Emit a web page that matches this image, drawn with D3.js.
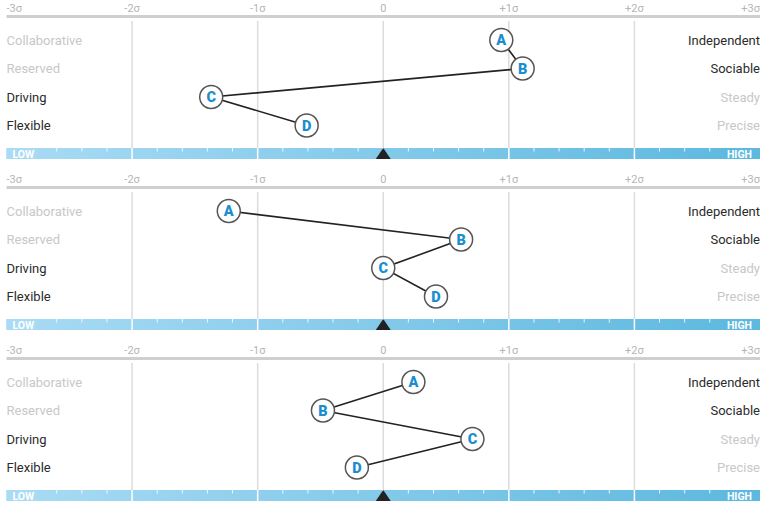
<!DOCTYPE html>
<html>
<head>
<meta charset="utf-8">
<script src="https://d3js.org/d3.v7.min.js"></script>
<style>
body { margin: 0; background: #fff; }
text { font-family: Roboto, "Noto Sans", sans-serif; }
.tick-label { fill: #b5b5b5; font-size: 11px; }
.trait { font-size: 13px; }
.letter { fill: #1b8ed0; font-size: 14.5px; font-weight: 900; }
.bar-label { fill: #fff; font-size: 10.5px; font-weight: bold; }
</style>
</head>
<body>
<div id="chart"></div>
<script type="text/javascript">

// sigma levels and labels
var levels = [-3, -2, -1, 0, 1, 2, 3];
var levelLabels = ["-3σ", "-2σ", "-1σ", "0", "+1σ", "+2σ", "+3σ"];

var leftTraits = ["Collaborative", "Reserved", "Driving", "Flexible"];
var rightTraits = ["Independent", "Sociable", "Steady", "Precise"];
// which side of each row is shown dark
var darkSide = ["right", "right", "left", "left"];

var points = ["A", "B", "C", "D"];
var graph1 = [0.94, 1.11, -1.37, -0.61];
var graph2 = [-1.23, 0.62, 0.0, 0.42];
var graph3 = [0.24, -0.48, 0.71, -0.21];
var graphs = [graph1, graph2, graph3];

var width = 768, height = 508, panelH = 171;

var x = d3.scaleLinear().domain([-3, 3]).range([6.5, 760]);
var y = d3.scalePoint().domain(points).range([40, 125.5]);

var svg = d3.select("#chart").append("svg")
    .attr("width", width)
    .attr("height", height);

var grad = svg.append("defs").append("linearGradient")
    .attr("id", "barGrad");
grad.append("stop").attr("offset", "0%").attr("stop-color", "#a9dbf4");
grad.append("stop").attr("offset", "100%").attr("stop-color", "#5cb8df");

// small ticks every 0.2 sigma inside the bar
var minorTicks = d3.range(-28, 29, 2).map(function(d){ return d / 10; })
    .filter(function(d){ return Math.abs(d - Math.round(d)) > 0.01; });

graphs.forEach(function(vals, gi){
    var g = svg.append("g").attr("transform", "translate(0," + (gi * panelH) + ")");

    // top axis
    g.selectAll(".tick-label").data(levels).enter().append("text")
        .attr("class", "tick-label")
        .attr("x", function(d){ return x(d); })
        .attr("y", 12)
        .attr("text-anchor", function(d){ return d == -3 ? "start" : d == 3 ? "end" : "middle"; })
        .text(function(d, i){ return levelLabels[i]; });
    g.append("line")
        .attr("x1", x(-3)).attr("x2", x(3))
        .attr("y1", 16.5).attr("y2", 16.5)
        .attr("stroke", "#cfcfcf").attr("stroke-width", 3);

    // gridlines
    g.selectAll(".grid").data(levels.slice(1, 6)).enter().append("line")
        .attr("x1", function(d){ return x(d); }).attr("x2", function(d){ return x(d); })
        .attr("y1", 21).attr("y2", 148)
        .attr("stroke", "#dcdcdc").attr("stroke-width", 1.5);

    // trait labels
    g.selectAll(".left").data(leftTraits).enter().append("text")
        .attr("class", "trait")
        .attr("x", x(-3))
        .attr("y", function(d, i){ return y(points[i]) + 4.5; })
        .attr("fill", function(d, i){ return darkSide[i] == "left" ? "#2b2b2b" : "#c8c8c8"; })
        .text(function(d){ return d; });
    g.selectAll(".right").data(rightTraits).enter().append("text")
        .attr("class", "trait")
        .attr("x", x(3))
        .attr("y", function(d, i){ return y(points[i]) + 4.5; })
        .attr("text-anchor", "end")
        .attr("fill", function(d, i){ return darkSide[i] == "right" ? "#2b2b2b" : "#c8c8c8"; })
        .text(function(d){ return d; });

    // bar
    g.append("rect")
        .attr("x", x(-3)).attr("y", 148)
        .attr("width", x(3) - x(-3)).attr("height", 11)
        .attr("fill", "url(#barGrad)");
    g.selectAll(".minor").data(minorTicks).enter().append("line")
        .attr("x1", function(d){ return x(d); }).attr("x2", function(d){ return x(d); })
        .attr("y1", 148).attr("y2", 151.5)
        .attr("stroke", "#fff").attr("stroke-opacity", 0.85).attr("stroke-width", 1);
    g.selectAll(".major").data(levels.slice(1, 6)).enter().append("line")
        .attr("x1", function(d){ return x(d); }).attr("x2", function(d){ return x(d); })
        .attr("y1", 148).attr("y2", 159)
        .attr("stroke", "#fff").attr("stroke-width", 1.5);
    g.append("rect")
        .attr("x", x(-3)).attr("y", 148).attr("width", 30).attr("height", 11)
        .attr("fill", "#a9dbf4");
    g.append("rect")
        .attr("x", x(3) - 36).attr("y", 148).attr("width", 36).attr("height", 11)
        .attr("fill", "#5eb9df");
    g.append("text").attr("class", "bar-label")
        .attr("x", x(-3) + 6).attr("y", 157.5).text("LOW");
    g.append("text").attr("class", "bar-label")
        .attr("x", x(3) - 8).attr("y", 157.5).attr("text-anchor", "end").text("HIGH");
    g.append("path")
        .attr("d", "M" + x(0) + ",148l7.5,11h-15z")
        .attr("fill", "#222");

    // connecting line
    var line = d3.line()
        .x(function(d){ return x(d); })
        .y(function(d, i){ return y(points[i]); });
    g.append("path")
        .datum(vals)
        .attr("d", line)
        .attr("fill", "none")
        .attr("stroke", "#222")
        .attr("stroke-width", 1.6);

    var node = g.selectAll(".node").data(vals).enter().append("g")
        .attr("transform", function(d, i){ return "translate(" + x(d) + "," + y(points[i]) + ")"; });
    node.append("circle")
        .attr("r", 11.5)
        .attr("fill", "#fff")
        .attr("stroke", "#555")
        .attr("stroke-width", 1.5);
    node.append("text")
        .attr("class", "letter")
        .attr("text-anchor", "middle")
        .attr("dy", "0.36em")
        .text(function(d, i){ return points[i]; });
});
</script>
</body>
</html>
